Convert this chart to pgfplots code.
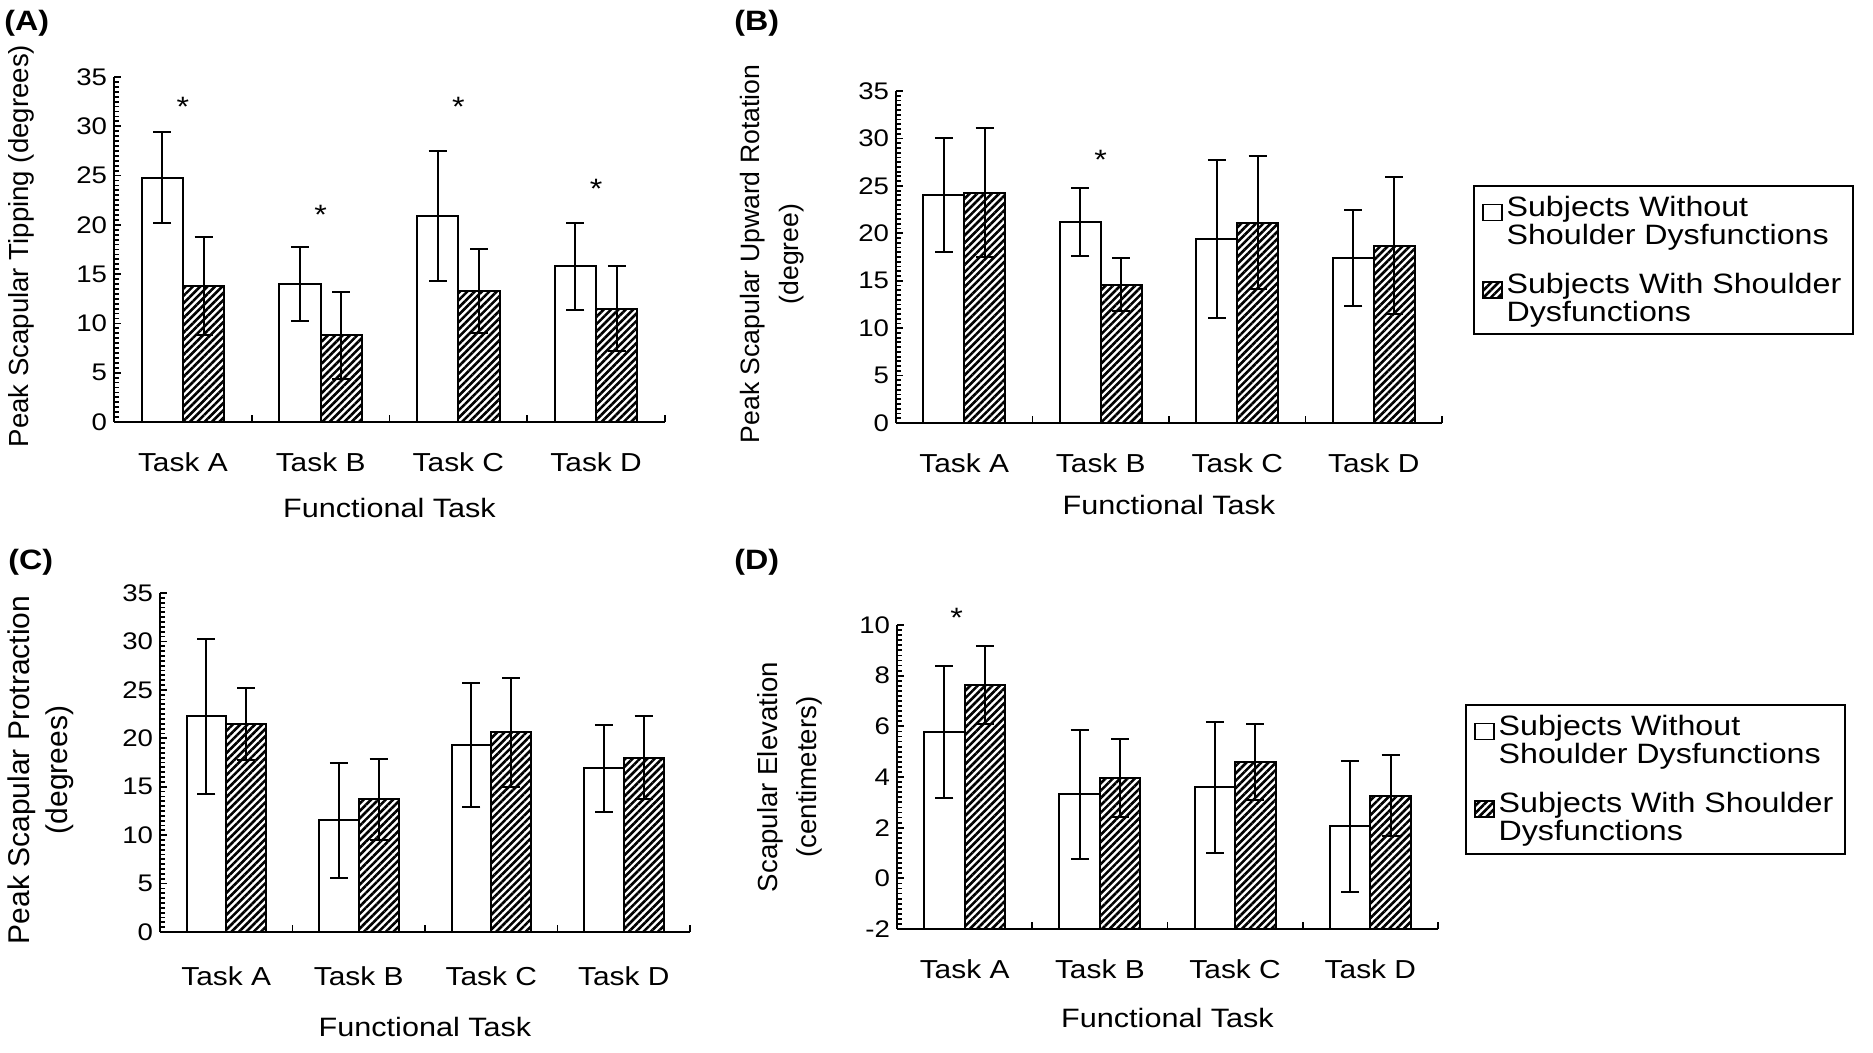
\documentclass[border=0pt]{standalone}
\usepackage{pgfplots}
\pgfplotsset{compat=1.18}
\usepackage{pgfplotstable}
\usetikzlibrary{patterns.meta}
\usepackage{fontspec}
\setmainfont{Liberation Sans}[FakeStretch=1.15]
\newfontfamily\rotfont{Liberation Sans}

% Panel A: Peak Scapular Tipping
\pgfplotstableread{
x y e
0 24.8 4.6
1 14.0 3.8
2 20.9 6.6
3 15.8 4.4
}\Aw
\pgfplotstableread{
x y e
0 13.8 5.0
1 8.8 4.4
2 13.3 4.3
3 11.5 4.3
}\Ah
% Panel B: Peak Scapular Upward Rotation
\pgfplotstableread{
x y e
0 24.0 6.0
1 21.2 3.6
2 19.4 8.3
3 17.4 5.1
}\Bw
\pgfplotstableread{
x y e
0 24.3 6.8
1 14.6 2.8
2 21.1 7.0
3 18.7 7.2
}\Bh
% Panel C: Peak Scapular Protraction
\pgfplotstableread{
x y e
0 22.3 8.0
1 11.55 5.95
2 19.3 6.4
3 16.9 4.5
}\Cw
\pgfplotstableread{
x y e
0 21.5 3.7
1 13.7 4.2
2 20.6 5.6
3 18.0 4.3
}\Ch
% Panel D: Scapular Elevation
\pgfplotstableread{
x y e
0 5.77 2.6
1 3.32 2.55
2 3.59 2.6
3 2.05 2.6
}\Dw
\pgfplotstableread{
x y e
0 7.63 1.55
1 3.96 1.55
2 4.61 1.5
3 3.26 1.6
}\Dh

\pgfplotsset{
  panel/.style={
    scale only axis, clip=false, anchor=south west,
    xmin=-0.5, xmax=3.5,
    axis x line=bottom, axis y line=left,
    axis line style={-, line width=1bp},
    tick align=inside,
    major tick length=3.5bp,
    major tick style={black, line width=0.9bp},
    xtick={0,1,2,3}, xticklabels={Task A,Task B,Task C,Task D},
    extra x ticks={0.5,1.5,2.5,3.5}, extra x tick labels={},
    extra y tick labels={},
    extra y tick style={major tick length=2.5bp, tick style={line width=0.8bp}},
    xticklabel style={font=\fontsize{13bp}{15bp}\selectfont, anchor=center, yshift=-20bp},
    yticklabel style={font=\fontsize{12bp}{14bp}\selectfont},
    /pgf/number format/assume math mode=true,
    ylabel style={font=\rotfont\fontsize{13.8bp}{19.5bp}\selectfont, align=center, anchor=center},
    xlabel style={font=\fontsize{13.3bp}{15bp}\selectfont, at={(axis description cs:0.5,0)}, anchor=center},
    legend style={draw=black, line width=1bp, font=\fontsize{14bp}{14bp}\selectfont,
      cells={align=left}, row sep=9bp, inner xsep=4bp, inner ysep=3bp, anchor=north west},
    legend cell align=left,
  },
  wbar/.style={ybar, bar width=0.3, bar shift=0pt, draw=black, fill=white, line width=1bp,
    error bars/y dir=both, error bars/y explicit,
    error bars/error bar style={line width=1bp, black},
    error bars/error mark options={rotate=90, mark size=4.5bp, line width=1bp, black},
    legend image code/.code={\draw[##1,/tikz/.cd, line width=0.8bp] (0bp,0.5bp) rectangle (9.5bp,8.5bp);}},
  hbar/.style={ybar, bar width=0.3, bar shift=0pt, draw=black, line width=1bp,
    pattern={Lines[angle=45,distance=2.6bp,line width=1.3bp]}, pattern color=black,
    error bars/y dir=both, error bars/y explicit,
    error bars/error bar style={line width=1bp, black},
    error bars/error mark options={rotate=90, mark size=4.5bp, line width=1bp, black},
    legend image code/.code={\draw[##1,/tikz/.cd, line width=0.8bp] (0bp,0.5bp) rectangle (9.5bp,8.5bp);}},
  stars/.style={draw=none, mark=none, forget plot, nodes near coords={*},
    nodes near coords align={anchor=center},
    every node near coord/.append style={font=\fontsize{14bp}{14bp}\selectfont, inner sep=0pt, black}},
}

\begin{document}
\begin{tikzpicture}
\useasboundingbox (0,0) rectangle (936.5bp,-526.5bp);

% (A)
\begin{axis}[panel, at={(57bp,-211bp)}, width=275.5bp, height=172.5bp,
  ymin=0, ymax=35, ytick={0,5,...,35}, extra y ticks={0.5,1,...,34.5},
  ylabel={Peak Scapular Tipping (degrees)},
  ylabel style={at={(axis description cs:-0.169,0.51)}},
  xlabel={Functional Task}, xlabel style={yshift=-43bp}]
\addplot[wbar] table[x expr=\thisrow{x}-0.15, y=y, y error=e] {\Aw};
\addplot[hbar] table[x expr=\thisrow{x}+0.15, y=y, y error=e] {\Ah};
\addplot[stars] coordinates {(0,32) (1,21) (2,32) (3,23.7)};
\end{axis}

% (B)
\begin{axis}[panel, at={(448bp,-211.5bp)}, width=273bp, height=166bp,
  ymin=0, ymax=35, ytick={0,5,...,35}, extra y ticks={0.5,1,...,34.5},
  ylabel={Peak Scapular Upward Rotation\\(degree)},
  ylabel style={at={(axis description cs:-0.227,0.509)}, font=\rotfont\fontsize{13.3bp}{19.5bp}\selectfont},
  xlabel={Functional Task}, xlabel style={yshift=-41bp},
  legend style={at={(rel axis cs:1.0568,0.7169)}}]
\addplot[wbar] table[x expr=\thisrow{x}-0.15, y=y, y error=e] {\Bw};
\addplot[hbar] table[x expr=\thisrow{x}+0.15, y=y, y error=e] {\Bh};
\addplot[stars] coordinates {(1,27.7)};
\legend{{Subjects Without\\Shoulder Dysfunctions},{Subjects With Shoulder\\Dysfunctions}}
\end{axis}

% (C)
\begin{axis}[panel, at={(80bp,-466bp)}, width=265bp, height=169.5bp,
  ymin=0, ymax=35, ytick={0,5,...,35}, extra y ticks={0.5,1,...,34.5},
  ylabel={Peak Scapular Protraction\\(degrees)},
  ylabel style={at={(axis description cs:-0.2245,0.478)}, font=\rotfont\fontsize{15bp}{19bp}\selectfont},
  xticklabel style={yshift=-2bp},
  xlabel={Functional Task}, xlabel style={yshift=-47.6bp}]
\addplot[wbar] table[x expr=\thisrow{x}-0.15, y=y, y error=e] {\Cw};
\addplot[hbar] table[x expr=\thisrow{x}+0.15, y=y, y error=e] {\Ch};
\end{axis}

% (D)
\begin{axis}[panel, at={(448.5bp,-464.5bp)}, width=270.5bp, height=152bp,
  y coord trafo/.code={\pgfmathparse{#1+2}},
  y coord inv trafo/.code={\pgfmathparse{#1-2}},
  ymin=-2, ymax=10, ytick={-2,0,2,4,6,8,10}, extra y ticks={-1.8,-1.6,...,9.9},
  ylabel={Scapular Elevation\\(centimeters)},
  ylabel style={at={(axis description cs:-0.198,0.5)}},
  xlabel={Functional Task}, xlabel style={yshift=-44.5bp},
  legend style={at={(rel axis cs:1.05,0.74)}}]
\addplot[wbar] table[x expr=\thisrow{x}-0.15, y=y, y error=e] {\Dw};
\addplot[hbar] table[x expr=\thisrow{x}+0.15, y=y, y error=e] {\Dh};
\addplot[stars] coordinates {(-0.06,10.3)};
\legend{{Subjects Without\\Shoulder Dysfunctions},{Subjects With Shoulder\\Dysfunctions}}
\end{axis}

\node[font=\bfseries\fontsize{14bp}{14bp}\selectfont, anchor=west, inner sep=0pt] at (2bp,-11.5bp) {(A)};
\node[font=\bfseries\fontsize{14bp}{14bp}\selectfont, anchor=west, inner sep=0pt] at (367bp,-11.5bp) {(B)};
\node[font=\bfseries\fontsize{14bp}{14bp}\selectfont, anchor=west, inner sep=0pt] at (4bp,-281bp) {(C)};
\node[font=\bfseries\fontsize{14bp}{14bp}\selectfont, anchor=west, inner sep=0pt] at (367bp,-281bp) {(D)};
\end{tikzpicture}
\end{document}
